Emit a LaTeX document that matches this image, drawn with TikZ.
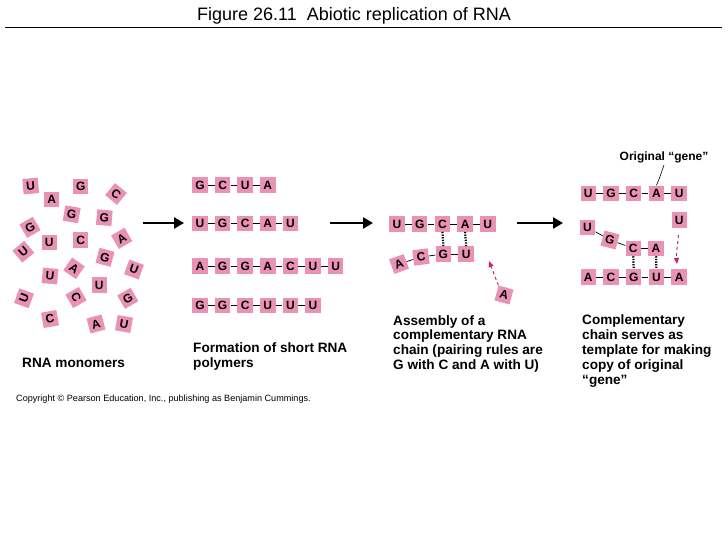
\documentclass[tikz,border=0pt]{standalone}
\usepackage{fontspec}
\setmainfont{Liberation Sans}
\usetikzlibrary{arrows.meta}
\definecolor{rnapink}{RGB}{234,146,180}
\definecolor{rnamag}{RGB}{205,30,120}
\tikzset{
  nt/.style={rectangle, fill=rnapink, minimum size=15.5pt, inner sep=0pt,
    font=\bfseries\fontsize{12}{12}\selectfont},
  bond/.style={draw=black, line width=0.7pt},
  pairline/.style={draw=black, line width=2.2pt, dash pattern=on 1.3pt off 1.3pt},
  bigarrow/.style={draw=black, line width=2.8pt, -{Triangle[length=10pt,width=11pt]}},
  dasharrow/.style={draw=rnamag, line width=1pt, dash pattern=on 3pt off 3pt, -{Triangle[length=6pt,width=5pt]}},
  lbl/.style={anchor=base west, align=left, inner sep=0pt,
    font=\bfseries\fontsize{13.6}{14.8}\selectfont}
}
\begin{document}
\begin{tikzpicture}[x=1pt,y=1pt]
\useasboundingbox (0,0) rectangle (728,-546);
% title
\node[font=\fontsize{18}{18}\selectfont, inner sep=0pt, anchor=base] (title) at (354,-20) {Figure 26.11\ \ Abiotic replication of RNA};
\coordinate (rl) at (5,-27);
\coordinate (rr) at (722,-27);
\draw[line width=0.8pt] (rl) -- (rr);

% panel 1 monomers
\node[nt, rotate=5]   (m1)  at (30.7,-186) {U};
\node[nt]             (m2)  at (51.7,-199.3) {A};
\node[nt]             (m3)  at (80.7,-186.7) {G};
\node[nt, rotate=-40] (m4)  at (116,-194) {C};
\node[nt, rotate=-10] (m5)  at (71.7,-214.3) {G};
\node[nt, rotate=-5]  (m6)  at (104.3,-217.7) {G};
\node[nt, rotate=30]  (m7)  at (30,-227.3) {G};
\node[nt]             (m8)  at (49.3,-242.7) {U};
\node[nt]             (m9)  at (80.7,-240) {C};
\node[nt, rotate=30]  (m10) at (121.7,-238.3) {A};
\node[nt, rotate=40]  (m11) at (23.3,-251.7) {U};
\node[nt, rotate=-15] (m12) at (105,-257.3) {G};
\node[nt, rotate=-35] (m13) at (74,-268.3) {A};
\node[nt, rotate=-20] (m14) at (134,-269.5) {U};
\node[nt, rotate=-5]  (m15) at (50,-276) {U};
\node[nt]             (m16) at (99.3,-285) {U};
\node[nt, rotate=70]  (m17) at (24,-298.3) {U};
\node[nt, rotate=-60] (m18) at (76,-297.5) {C};
\node[nt, rotate=30]  (m19) at (127.8,-298.3) {G};
\node[nt, rotate=10]  (m20) at (50,-319) {C};
\node[nt, rotate=15]  (m21) at (96,-324) {A};
\node[nt, rotate=-10] (m22) at (124,-324) {U};

% arrows
\coordinate (a1s) at (143,-223); \coordinate (a1e) at (184,-223);
\coordinate (a2s) at (330,-223); \coordinate (a2e) at (373,-223);
\coordinate (a3s) at (517,-223); \coordinate (a3e) at (563,-223);
\draw[bigarrow] (a1s) -- (a1e);
\draw[bigarrow] (a2s) -- (a2e);
\draw[bigarrow] (a3s) -- (a3e);

% panel 2 polymers
\foreach \L [count=\i] in {G,C,U,A}
  \node[nt] (pa\i) at ({200+22.6*(\i-1)},-185) {\L};
\foreach \i/\j in {1/2,2/3,3/4} \draw[bond] (pa\i) -- (pa\j);
\foreach \L [count=\i] in {U,G,C,A,U}
  \node[nt] (pb\i) at ({200+22.6*(\i-1)},-223.3) {\L};
\foreach \i/\j in {1/2,2/3,3/4,4/5} \draw[bond] (pb\i) -- (pb\j);
\foreach \L [count=\i] in {A,G,G,A,C,U,U}
  \node[nt] (pc\i) at ({200+22.6*(\i-1)},-266.2) {\L};
\foreach \i/\j in {1/2,2/3,3/4,4/5,5/6,6/7} \draw[bond] (pc\i) -- (pc\j);
\foreach \L [count=\i] in {G,G,C,U,U,U}
  \node[nt] (pd\i) at ({200+22.6*(\i-1)},-305.5) {\L};
\foreach \i/\j in {1/2,2/3,3/4,4/5,5/6} \draw[bond] (pd\i) -- (pd\j);

% panel 3 assembly
\foreach \L [count=\i] in {U,G,C,A,U}
  \node[nt] (qa\i) at ({397+22.7*(\i-1)},-224) {\L};
\foreach \i/\j in {1/2,2/3,3/4,4/5} \draw[bond] (qa\i) -- (qa\j);
\node[nt] (qg) at (443.4,-254) {G};
\node[nt] (qu) at (466.1,-254) {U};
\node[nt, rotate=8] (qc) at (421,-257) {C};
\node[nt, rotate=20] (qA) at (399,-264) {A};
\draw[bond] (qA) -- (qc);
\draw[bond] (qc) -- (qg);
\draw[bond] (qg) -- (qu);
\draw[pairline] (qa3.south) -- (qg.north);
\draw[pairline] (qa4.south) -- (qu.north);
\node[nt, rotate=-15] (qfree) at (504,-295) {A};
\coordinate (qtip) at (489,-261);
\draw[dasharrow] (qfree.north west) -- (qtip);

% panel 4 replication
\foreach \L [count=\i] in {U,G,C,A,U}
  \node[nt] (ra\i) at ({588.3+22.7*(\i-1)},-193.3) {\L};
\foreach \i/\j in {1/2,2/3,3/4,4/5} \draw[bond] (ra\i) -- (ra\j);
\node[font=\bfseries\fontsize{12}{12}\selectfont, inner sep=0pt] (gene) at (664,-157) {Original “gene”};
\draw[line width=0.6pt] (664,-165) to[out=-110,in=65] (ra4.north);
\node[nt] (rbU) at (587.5,-227.3) {U};
\node[nt, rotate=-15] (rbG) at (610,-240) {G};
\node[nt] (rbC) at (633.3,-248.3) {C};
\node[nt] (rbA) at (656,-248.3) {A};
\draw[bond] (rbU) -- (rbG);
\draw[bond] (rbG) -- (rbC);
\draw[bond] (rbC) -- (rbA);
\node[nt] (rfree) at (679.3,-220) {U};
\foreach \L [count=\i] in {A,C,G,U,A}
  \node[nt] (rc\i) at ({588.3+22.7*(\i-1)},-277) {\L};
\foreach \i/\j in {1/2,2/3,3/4,4/5} \draw[bond] (rc\i) -- (rc\j);
\draw[pairline] (rbC.south) -- (rc3.north);
\draw[pairline] (rbA.south) -- (rc4.north);
\coordinate (rtip) at (677,-264);
\draw[dasharrow] (678.5,-235) to[out=-95,in=95] (rtip);

% labels (base anchor = last line)
\node[lbl] (t1) at (22,-367) {RNA monomers};
\node[lbl] (t2) at (193,-367) {Formation of short RNA\\polymers};
\node[lbl] (t3) at (393,-369.5) {Assembly of a\\complementary RNA\\chain (pairing rules are\\G with C and A with U)};
\node[lbl] (t4) at (582,-384) {Complementary\\chain serves as\\template for making\\copy of original\\“gene”};
\node[anchor=base west, inner sep=0pt, font=\fontsize{9.1}{9}\selectfont] (copy) at (16,-401) {Copyright © Pearson Education, Inc., publishing as Benjamin Cummings.};
\end{tikzpicture}
\end{document}
